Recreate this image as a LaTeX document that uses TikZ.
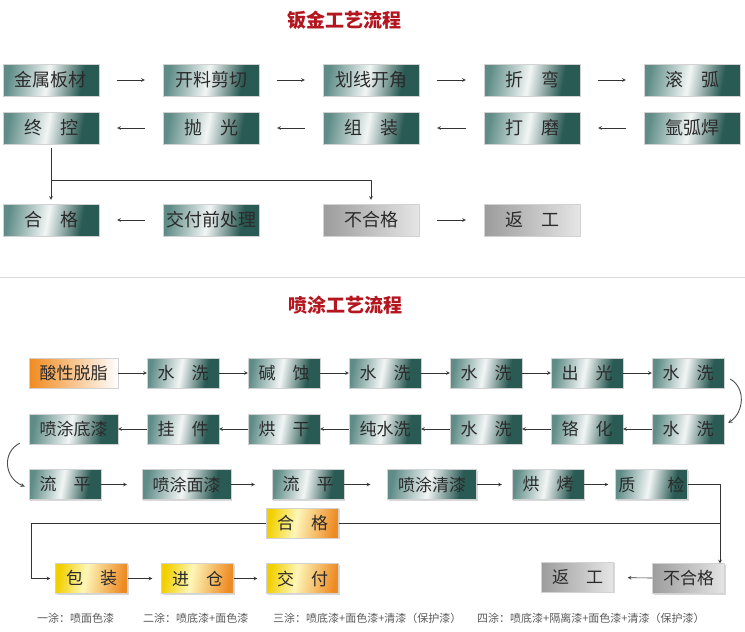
\documentclass[tikz,border=0pt]{standalone}
\usepackage{fontspec}
\setmainfont{Noto Sans CJK SC}
\usetikzlibrary{shadows}
\definecolor{tealL}{HTML}{5F8C87}
\definecolor{tealM}{HTML}{F2F6F5}
\definecolor{tealD}{HTML}{2A5A54}
\definecolor{grayL}{HTML}{9C9C9C}
\definecolor{orgL}{HTML}{F08A1E}
\definecolor{yelL}{HTML}{F2D000}
\definecolor{yelM}{HTML}{FDF6B8}
\definecolor{yelD}{HTML}{EE8A22}
\definecolor{titR}{HTML}{B3161F}
\definecolor{txtG}{HTML}{2A2A2A}
\pgfdeclarehorizontalshading{tealshade}{100bp}{color(0bp)=(tealL); color(25bp)=(tealL); color(48bp)=(tealM); color(68bp)=(tealD); color(100bp)=(tealD)}
\pgfdeclarehorizontalshading{yelshade}{100bp}{color(0bp)=(yelL); color(25bp)=(yelL); color(45bp)=(yelM); color(75bp)=(yelD); color(100bp)=(yelD)}
\begin{document}
\begin{tikzpicture}[x=1pt, y=-1pt, line join=round, >=stealth, font=\fontsize{18}{18}\selectfont,
	box/.style={rectangle, inner sep=0pt, text=txtG, draw=gray!35, line width=0.4pt, drop shadow={shadow xshift=1.2pt, shadow yshift=-1.2pt, opacity=0.3}},
	tbox/.style={box, shading=tealshade, shading angle=-10},
	gbox/.style={box, left color=grayL, middle color=white, right color=gray!20},
	obox/.style={box, left color=orgL, middle color=white, right color=white},
	ybox/.style={box, shading=yelshade, shading angle=-10},
	big/.style={minimum width=96pt, minimum height=32pt},
	small/.style={minimum width=72pt, minimum height=30pt, font=\fontsize{17}{17}\selectfont},
	wide/.style={minimum width=89pt, minimum height=30pt, font=\fontsize{17}{17}\selectfont},
	link/.style={->, line width=0.6pt, draw=black!80},
	curl/.style={->, line width=0.9pt, draw=black!70},
	title/.style={font=\fontsize{19}{19}\selectfont\bfseries, text=titR},
	note/.style={anchor=west, inner sep=0pt, font=\fontsize{11}{11}\selectfont, text=black!65}]
	\useasboundingbox (0,0) rectangle (745,632);
	%%%%%%%%%%%%%%%%%%%%%%%%%%%%%%%%%
	\coordinate (J1) at (51,180);
	\coordinate (R1) at (720,484.5);
	\coordinate (R2) at (720,523);
	\coordinate (L1) at (31,523);
	%%%%%%%%%%%%%%%%%%%%%%%%%%%%%%%%%
	\node[title] (T1) at (344,20) {钣金工艺流程};
	\node[title] (T2) at (345,305) {喷涂工艺流程};
	\draw[gray!30, line width=0.8pt] (0,277) -- (745,277);
	%%%%%%%%%%%%%%%%%%%%%%%%%%%%%%%%%
	\node[tbox,big] (A1) at (51,80) {金属板材};
	\node[tbox,big] (A2) at (211,80) {开料剪切};
	\node[tbox,big] (A3) at (371,80) {划线开角};
	\node[tbox,big] (A4) at (532,80) {折\quad 弯};
	\node[tbox,big] (A5) at (692,80) {滚\quad 弧};
	\node[tbox,big] (A6) at (692,128) {氩弧焊};
	\node[tbox,big] (A7) at (532,128) {打\quad 磨};
	\node[tbox,big] (A8) at (371,128) {组\quad 装};
	\node[tbox,big] (A9) at (211,128) {抛\quad 光};
	\node[tbox,big] (A10) at (51,128) {终\quad 控};
	\node[tbox,big] (A11) at (51,220) {合\quad 格};
	\node[tbox,big] (A12) at (211,220) {交付前处理};
	\node[gbox,big] (A13) at (371,220) {不合格};
	\node[gbox,big] (A14) at (532,220) {返\quad 工};
	%%%%%%%%%%%%%%%%%%%%%%%%%%%%%%%%%
	\foreach \a/\b in {A1/A2,A2/A3,A3/A4,A4/A5,A6/A7,A7/A8,A8/A9,A9/A10,A12/A11,A13/A14}
		\draw[link, shorten <=18pt, shorten >=18pt] (\a) -- (\b);
	\draw[link, shorten <=4pt, shorten >=4pt] (A10) -- (A11);
	\draw[link, shorten >=4pt] (J1) -| (A13);
	%%%%%%%%%%%%%%%%%%%%%%%%%%%%%%%%%
	\node[obox,wide] (B1) at (73.5,373) {酸性脱脂};
	\node[tbox,small] (B2) at (183,373) {水\quad 洗};
	\node[tbox,small] (B3) at (284,373) {碱\quad 蚀};
	\node[tbox,small] (B4) at (385,373) {水\quad 洗};
	\node[tbox,small] (B5) at (486,373) {水\quad 洗};
	\node[tbox,small] (B6) at (587,373) {出\quad 光};
	\node[tbox,small] (B7) at (688,373) {水\quad 洗};
	\node[tbox,small] (B8) at (688,429) {水\quad 洗};
	\node[tbox,small] (B9) at (587,429) {铬\quad 化};
	\node[tbox,small] (B10) at (486,429) {水\quad 洗};
	\node[tbox,small] (B11) at (385,429) {纯水洗};
	\node[tbox,small] (B12) at (284,429) {烘\quad 干};
	\node[tbox,small] (B13) at (183,429) {挂\quad 件};
	\node[tbox,wide] (B14) at (73.5,429) {喷涂底漆};
	%%%%%%%%%%%%%%%%%%%%%%%%%%%%%%%%%
	\node[tbox,small] (C1) at (65,484.5) {流\quad 平};
	\node[tbox,wide] (C2) at (186.5,484.5) {喷涂面漆};
	\node[tbox,small] (C3) at (308,484.5) {流\quad 平};
	\node[tbox,wide] (C4) at (432,484.5) {喷涂清漆};
	\node[tbox,small] (C5) at (548,484.5) {烘\quad 烤};
	\node[tbox,small] (C6) at (651.5,484.5) {质\hspace{1.9em}检};
	\node[ybox,small] (D1) at (302.5,523) {合\quad 格};
	\node[ybox,small] (D2) at (91.5,578.5) {包\quad 装};
	\node[ybox,small] (D3) at (197.5,578.5) {进\quad 仓};
	\node[ybox,small] (D4) at (302.5,578.5) {交\quad 付};
	\node[gbox,small] (E1) at (577.5,577) {返\quad 工};
	\node[gbox,small] (E2) at (688.5,578.5) {不合格};
	%%%%%%%%%%%%%%%%%%%%%%%%%%%%%%%%%
	\foreach \a/\b in {B1/B2,B2/B3,B3/B4,B4/B5,B5/B6,B6/B7,B8/B9,B9/B10,B10/B11,B11/B12,B12/B13,B13/B14}
		\draw[link] (\a) -- (\b);
	\draw[curl] ([shift={(6,6)}]B7.east) .. controls (746,388) and (744,412) .. ([shift={(4,-6)}]B8.east);
	\draw[curl] ([shift={(-9,-1)}]B14.south west) .. controls (2,452) and (4,478) .. ([shift={(-4,2)}]C1.west);
	\foreach \a/\b/\s in {C1/C2/15,C2/C3/17,C3/C4/17,C4/C5/10,C5/C6/7,D2/D3/9,D3/D4/9,E2/E1/14}
		\draw[link, shorten >=\s pt] (\a) -- (\b);
	\draw[link] (C6.east) -- (R1) -- (R1 |- E2.north);
	\draw[line width=0.6pt, black!80] (D1.east) -- (R2);
	\draw[link, shorten >=5pt] (D1.west) -- (L1) |- (D2.west);
	%%%%%%%%%%%%%%%%%%%%%%%%%%%%%%%%%
	\node[note] (N1) at (37,618) {一涂：喷面色漆};
	\node[note] (N2) at (143,618) {二涂：喷底漆+面色漆};
	\node[note] (N3) at (273,618) {三涂：喷底漆+面色漆+清漆（保护漆）};
	\node[note] (N4) at (477,618) {四涂：喷底漆+隔离漆+面色漆+清漆（保护漆）};
	%%%%%%%%%%%%%%%%%%%%%%%%%%%%%%%%%
\end{tikzpicture}
\end{document}
